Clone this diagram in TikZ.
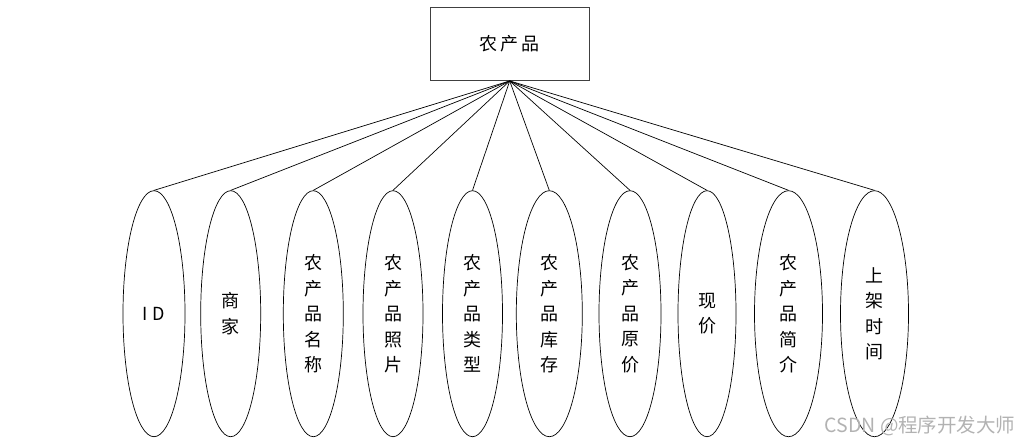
\documentclass[tikz,border=0pt]{standalone}
\usepackage{fontspec}
\setmainfont{Noto Sans CJK SC}
\usepackage{tikz}
\usetikzlibrary{shapes.geometric}

\begin{document}
\begin{tikzpicture}[x=1pt, y=-1pt,
    entitybox/.style={draw=black!75, line width=0.9pt, minimum width=159pt, minimum height=73pt,
                      inner sep=0pt, font=\fontsize{18}{20}\selectfont},
    attrib/.style={ellipse, draw, line width=0.7pt, minimum height=246pt, inner sep=0pt,
                   align=center, font=\fontsize{18}{25.5}\selectfont},
    link/.style={line width=0.7pt}]
  \useasboundingbox (0,0) rectangle (1022,446);

  % Entity
  \node[entitybox] (prod) at (509.7,44) {农\,产\,品};

  % Attributes
  \node[attrib, minimum width=62pt] (aid)    at (154,313.7)   {I\;D};
  \node[attrib, minimum width=60pt] (amerch) at (230.7,313.7) {商\\家};
  \node[attrib, minimum width=60pt] (aname)  at (313.3,313.7) {农\\产\\品\\名\\称};
  \node[attrib, minimum width=60pt] (aphoto) at (393,313.7)   {农\\产\\品\\照\\片};
  \node[attrib, minimum width=60pt] (atype)  at (472.5,313.7) {农\\产\\品\\类\\型};
  \node[attrib, minimum width=66pt] (astock) at (549.3,313.7) {农\\产\\品\\库\\存};
  \node[attrib, minimum width=62pt] (aorig)  at (630,313.7)   {农\\产\\品\\原\\价};
  \node[attrib, minimum width=58pt] (anow)   at (707,313.7)   {现\\价};
  \node[attrib, minimum width=68pt] (aintro) at (788.5,313.7) {农\\产\\品\\简\\介};
  \node[attrib, minimum width=68pt] (atime)  at (874.5,313.7) {上\\架\\时\\间};

  % Connectors
  \foreach \a in {aid,amerch,aname,aphoto,atype,astock,aorig,anow,aintro,atime}
    \draw[link] (prod.south) -- (\a.north);

  % Watermark
  \node[text=black!30, font=\fontsize{19.5}{21}\selectfont, anchor=east] (mark) at (1019,426) {CSDN @程序开发大师};
\end{tikzpicture}
\end{document}
